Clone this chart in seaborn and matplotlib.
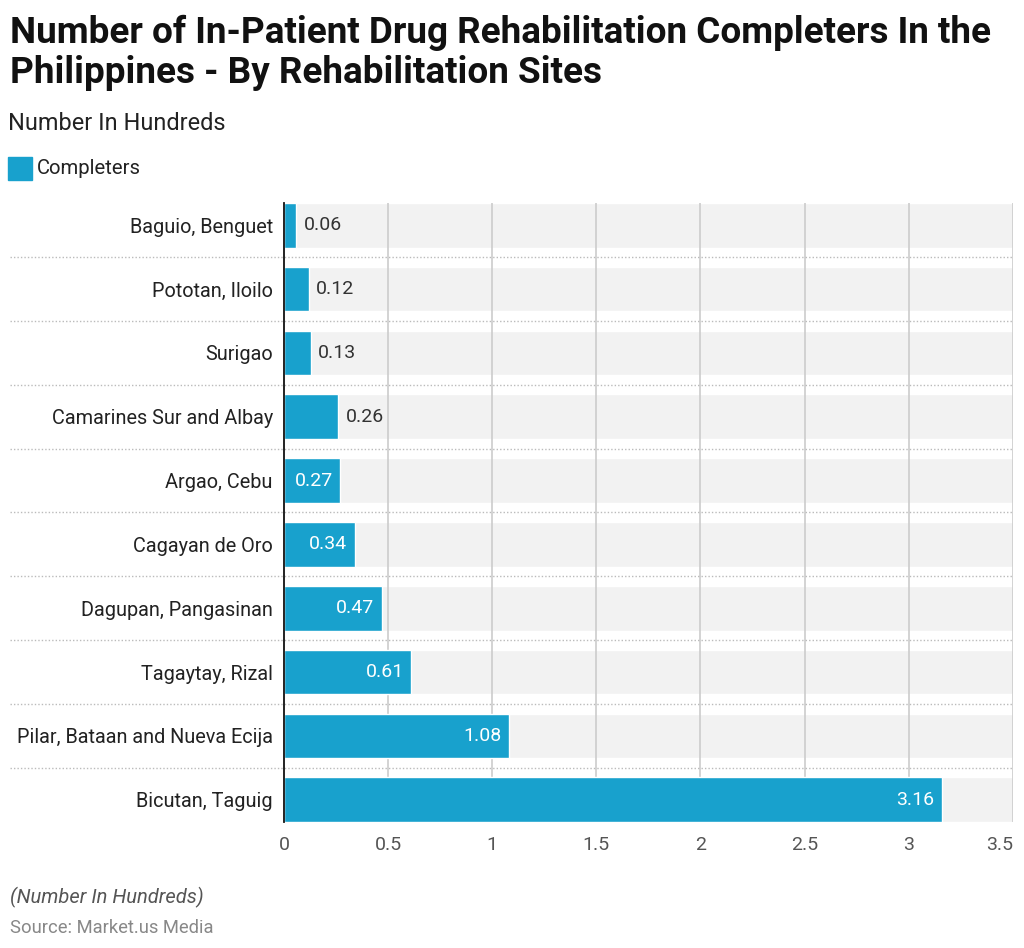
import pandas as pd
import matplotlib.pyplot as plt
import seaborn as sns

sites = ['Baguio, Benguet', 'Pototan, Iloilo', 'Surigao', 'Camarines Sur and Albay',
         'Argao, Cebu', 'Cagayan de Oro', 'Dagupan, Pangasinan', 'Tagaytay, Rizal',
         'Pilar, Bataan and Nueva Ecija', 'Bicutan, Taguig']
completers = [0.06, 0.12, 0.13, 0.26, 0.27, 0.34, 0.47, 0.61, 1.08, 3.16]
xticks = [0, 0.5, 1, 1.5, 2, 2.5, 3, 3.5]

df = pd.DataFrame({'Site': sites, 'Completers': completers})
df['Back'] = xticks[-1]

sns.set_style('white')
plt.rcParams['font.family'] = ['Roboto', 'DejaVu Sans']

fig = plt.figure(figsize=(10.24, 9.48), dpi=100)
ax = fig.add_axes([0.2773, 0.1329, 0.989 - 0.2773, 0.7859 - 0.1329])

# grey bands behind each bar
sns.barplot(data=df, x='Back', y='Site', color='#f2f2f2', width=0.7, ax=ax,
            saturation=1, zorder=1)
for x in xticks[1:]:
    ax.axvline(x, color='#cccccc', lw=1.2, zorder=2)
sns.barplot(data=df, x='Completers', y='Site', color='#18a1cd', width=0.7, ax=ax,
            saturation=1, zorder=3)

ax.set_xlim(0, xticks[-1])
ax.set_ylim(len(sites) - 1 + 0.35, -0.35)
ax.set_xticks(xticks)
ax.set_xticklabels([f'{t:g}' for t in xticks], fontsize=14, color='#555555')
ax.get_xticklabels()[-1].set_horizontalalignment('right')
ax.tick_params(axis='x', length=0, pad=10)
ax.tick_params(axis='y', length=0, pad=8, labelsize=14.3, labelcolor='#222222')
ax.set_xlabel('')
ax.set_ylabel('')
for s in ['top', 'right', 'bottom']:
    ax.spines[s].set_visible(False)
ax.spines['left'].set_color('#111111')
ax.spines['left'].set_linewidth(1.3)
ax.spines['left'].set_zorder(5)

# dotted separators
xmin = (10 - 284) / 729
for i in range(len(sites) - 1):
    ax.axhline(i + 0.5, xmin=xmin, xmax=1, color='#bbbbbb', lw=1, ls=(0, (1, 1.5)),
               clip_on=False, zorder=4)

# value labels
for i, v in enumerate(completers):
    if v >= 0.27:
        ax.text(v - 0.035, i, f'{v:.2f}', ha='right', va='center', fontsize=14,
                color='white', zorder=6)
    else:
        ax.text(v + 0.035, i, f'{v:.2f}', ha='left', va='center', fontsize=14,
                color='#333333', zorder=6)

fig.text(10 / 1024, 1 - 15 / 948,
         'Number of In-Patient Drug Rehabilitation Completers In the\nPhilippines - By Rehabilitation Sites',
         fontsize=26.6, fontweight='bold', color='#111111', ha='left', va='top',
         linespacing=1.12)
fig.text(8 / 1024, 1 - 123 / 948, 'Number In Hundreds', fontsize=16.9,
         color='#222222', ha='left', va='center')
fig.patches.append(plt.Rectangle((8 / 1024, 1 - 180 / 948), 24 / 1024, 23 / 948,
                                 transform=fig.transFigure, color='#18a1cd'))
fig.text(37 / 1024, 1 - 168 / 948, 'Completers', fontsize=14.6, color='#222222',
         ha='left', va='center')
fig.text(10 / 1024, 1 - 897 / 948, '(Number In Hundreds)', fontsize=14.5,
         style='italic', color='#555555', ha='left', va='center')
fig.text(10 / 1024, 1 - 928 / 948, 'Source: Market.us Media', fontsize=13.2,
         color='#888888', ha='left', va='center')

fig.savefig('out.png', dpi=100)
